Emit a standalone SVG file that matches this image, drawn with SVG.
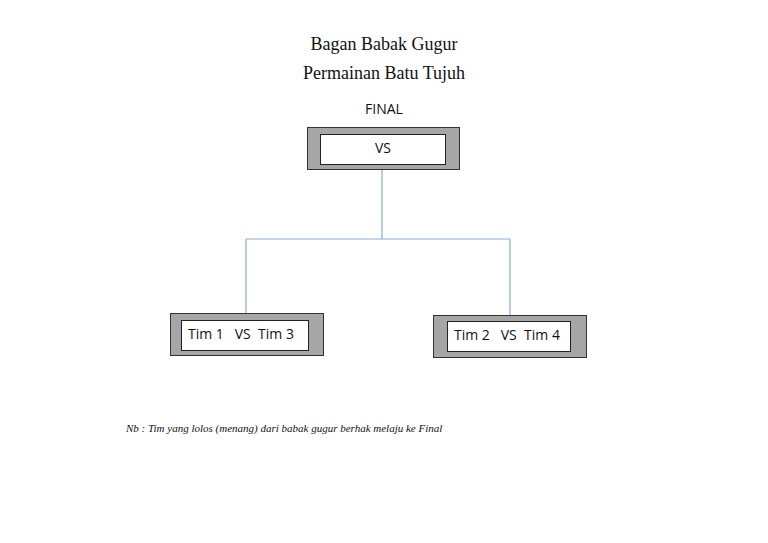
<svg xmlns="http://www.w3.org/2000/svg" width="768" height="543" viewBox="0 0 768 543">
<style>
.o{fill:#a6a6a6;stroke:#333;stroke-width:1}
.i{fill:#fff;stroke:#222;stroke-width:1}
.s{font-family:"Open Sans","Liberation Sans",sans-serif;font-size:14px;fill:#111}
.t{font-family:"Liberation Serif",serif;fill:#111}
.c{stroke:#8eaadb;stroke-width:1.2;fill:none}
</style>
<rect width="768" height="543" fill="#fff"/>
<text class="t" x="384" y="50" font-size="18" text-anchor="middle">Bagan Babak Gugur</text>
<text class="t" x="384" y="79" font-size="18" text-anchor="middle">Permainan Batu Tujuh</text>
<text class="s" x="384" y="114" text-anchor="middle">FINAL</text>
<g id="connectors">
<path class="c" d="M382 169V239M246 239H510M246 239V313M510 239V315"/>
</g>
<g id="final">
<rect class="o" x="307.5" y="127.5" width="152" height="42"/>
<rect class="i" x="320.5" y="134.5" width="125" height="30"/>
<text class="s" x="383" y="153" text-anchor="middle">VS</text>
</g>
<g id="semi1">
<rect class="o" x="170.5" y="313.5" width="153" height="42"/>
<rect class="i" x="181.5" y="320.5" width="127" height="30"/>
<text class="s" x="188" y="339" xml:space="preserve">Tim 1   VS  Tim 3</text>
</g>
<g id="semi2">
<rect class="o" x="433.5" y="315.5" width="153" height="42"/>
<rect class="i" x="447.5" y="321.5" width="123" height="30"/>
<text class="s" x="454" y="340" xml:space="preserve">Tim 2   VS  Tim 4</text>
</g>
<text class="t" x="126" y="432" font-size="11" font-style="italic">Nb : Tim yang lolos (menang) dari babak gugur berhak melaju ke Final</text>
</svg>
